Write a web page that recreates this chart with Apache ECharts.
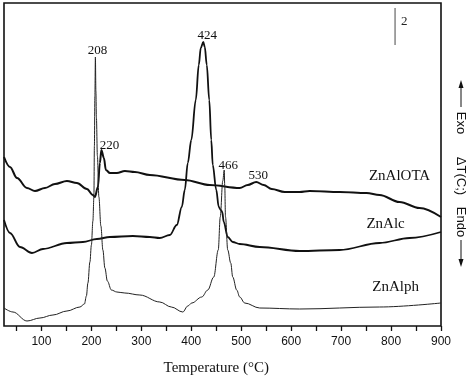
<!DOCTYPE html>
<html><head><meta charset="utf-8">
<script src="https://cdn.jsdelivr.net/npm/echarts@6/dist/echarts.min.js"></script>
<style>html,body{margin:0;padding:0;background:#fff}#c{width:474px;height:380px}</style>
</head><body><div id="c"></div>
<script>
// Temperature (°C) and DTA signal (arbitrary units)
const tempOTA = [25,37,51,71,87,107,127,151,171,191,203,207,213,217,220,225,229,237,251,267,287,317,387,437,497,513,530,545,561,587,617,637,697,751,777,817,857,900];
const valOTA  = [169,159,148,138,135,138,142,145,143,137,131,129,139,163,176,168,156,153,153,155,154,151,146,141,138,141,144,141,137,134,134,135,134,133,131,124,118,109];

const tempAlc = [25,37,57,81,103,151,183,211,237,283,317,337,357,371,381,387,393,400,409,415,419,424,427,431,436,440,443,450,455,459,462,465,473,483,497,537,617,697,777,837,900];
const valAlc  = [106,93,79,73,77,83,84,87,89,90,89,88,91,101,119,136,163,186,226,261,278,284,279,261,226,186,161,136,119,116,114,104,89,84,82,79,75,76,83,88,94];

const tempAlph = [25,43,71,97,123,151,177,186,190,193,197,200,203,205,206,207,208,209,210,212,215,219,223,227,232,240,251,267,297,337,360,383,393,401,421,433,445,454,458,463,466,467,468.5,473,479,483,491,497,507,537,617,777,900];
const valAlph  = [18,14,5,8,11,15,19,22,30,43,64,81,105,129,180,230,269,235,209,170,129,100,76,58,45,36,34,33,31,24,19,14,20,23,29,36,49,76,109,145,156,140,109,76,63,49,36,29,23,18,17,19,23];

const peakOTA = [220, 530];
const peakAlc = [424];
const peakAlph = [208, 466];

const seriesNames = ['ZnAlOTA', 'ZnAlc', 'ZnAlph'];
const xTicks = [100,200,300,400,500,600,700,800,900];
const scaleBarValue = '2';
const scaleBarT = 808;
const scaleBarRange = [281, 318];

const zip = (a, b) => a.map((t, i) => [t, b[i]]);
const shift = {208:[2,1], 220:[8,3], 424:[4,1], 466:[4,3], 530:[2,1]};
const peakMarks = (peaks, temps, vals) => ({
  symbolSize: 0,
  label: {show: true, position: 'top', distance: 1, color: '#111',
          fontFamily: 'Liberation Serif', fontSize: 13, formatter: p => p.value},
  data: peaks.map(t => ({coord: [t, vals[temps.indexOf(t)]], value: t,
                         label: {offset: shift[t]}}))
});
const nameMark = (name, t, v) => ({
  symbolSize: 0,
  data: [{coord: [t, v], value: name,
          label: {show: true, position: 'inside', color: '#111',
                  fontFamily: 'Liberation Serif', fontSize: 15, formatter: name}}]
});
const mergeMarks = (a, b) => ({symbolSize: 0, data: a.data.concat(b.data), label: a.label});

const chart = echarts.init(document.getElementById('c'), null, {renderer: 'canvas'});
const lineBase = {type: 'line', showSymbol: false, symbol: 'none', smooth: 0.35,
                  smoothMonotone: 'x', xAxisIndex: 0, yAxisIndex: 0, z: 3};
const mOTA = mergeMarks(peakMarks(peakOTA, tempOTA, valOTA), nameMark(seriesNames[0], 817, 150));
const mAlc = mergeMarks(peakMarks(peakAlc, tempAlc, valAlc), nameMark(seriesNames[1], 789, 102));
const mAlph = mergeMarks(peakMarks(peakAlph, tempAlph, valAlph), nameMark(seriesNames[2], 809, 39));

const option = {
  animation: false,
  backgroundColor: '#fff',
  grid: [
    {left: 4, right: 33, top: 3, bottom: 54, show: true, borderColor: '#111', borderWidth: 1.6,
     containLabel: false, outerBoundsMode: 'none'},
    {left: -8.5, right: 33, top: 3, bottom: 54, show: false, containLabel: false, outerBoundsMode: 'none'}
  ],
  xAxis: [
    {type: 'value', gridIndex: 0, min: 25, max: 900, axisLine: {show: false},
     axisTick: {show: false}, axisLabel: {show: false}, splitLine: {show: false}},
    {type: 'value', gridIndex: 1, min: 0, max: 900, interval: 50,
     axisLine: {show: false},
     axisTick: {show: true, length: 5, inside: false, lineStyle: {color: '#111', width: 1.3}},
     axisLabel: {show: true, margin: 10, color: '#111', fontFamily: 'Liberation Sans', fontSize: 12,
                 formatter: v => xTicks.includes(v) ? String(v) : ''},
     splitLine: {show: false},
     name: 'Temperature (°C)', nameLocation: 'middle', nameGap: 35,
     nameTextStyle: {color: '#111', fontFamily: 'Liberation Serif', fontSize: 15}}
  ],
  yAxis: [
    {type: 'value', gridIndex: 0, min: 0, max: 323, show: false},
    {type: 'value', gridIndex: 1, min: 0, max: 1, show: false}
  ],
  series: [
    Object.assign({}, lineBase, {name: seriesNames[0], data: zip(tempOTA, valOTA),
      lineStyle: {color: '#111', width: 2}, markPoint: mOTA}),
    Object.assign({}, lineBase, {name: seriesNames[1], data: zip(tempAlc, valAlc),
      lineStyle: {color: '#111', width: 1.8}, markPoint: mAlc}),
    Object.assign({}, lineBase, {name: seriesNames[2], data: zip(tempAlph, valAlph),
      lineStyle: {color: '#222', width: 1}, markPoint: mAlph}),
    {type: 'line', name: 'scale', xAxisIndex: 0, yAxisIndex: 0, showSymbol: false, symbol: 'none',
     data: [[scaleBarT, scaleBarRange[0]], [scaleBarT, scaleBarRange[1]]],
     lineStyle: {color: '#666', width: 1.2},
     markPoint: {symbolSize: 0, data: [{coord: [scaleBarT, (scaleBarRange[0] + scaleBarRange[1]) / 2 + 5], value: scaleBarValue}],
       label: {show: true, position: 'right', distance: 6, color: '#222', fontFamily: 'Liberation Serif', fontSize: 13,
               formatter: scaleBarValue}}}
  ],
  graphic: [
    {type: 'line', shape: {x1: 461, y1: 86, x2: 461, y2: 107}, style: {stroke: '#111', lineWidth: 1}},
    {type: 'polygon', shape: {points: [[461, 80], [458.5, 88], [463.5, 88]]}, style: {fill: '#111'}},
    {type: 'text', x: 461, y: 123, rotation: -Math.PI / 2,
     style: {text: 'Exo', fill: '#111', font: '13px "Liberation Sans"', align: 'center', verticalAlign: 'middle'}},
    {type: 'text', x: 461, y: 176, rotation: -Math.PI / 2,
     style: {text: 'ΔT(C;)', fill: '#111', font: '13px "Liberation Sans"', align: 'center', verticalAlign: 'middle'}},
    {type: 'text', x: 461, y: 222, rotation: -Math.PI / 2,
     style: {text: 'Endo', fill: '#111', font: '13px "Liberation Sans"', align: 'center', verticalAlign: 'middle'}},
    {type: 'line', shape: {x1: 461, y1: 240, x2: 461, y2: 261}, style: {stroke: '#111', lineWidth: 1}},
    {type: 'polygon', shape: {points: [[461, 267], [458.5, 259], [463.5, 259]]}, style: {fill: '#111'}}
  ]
};
chart.setOption(option);
</script></body></html>
